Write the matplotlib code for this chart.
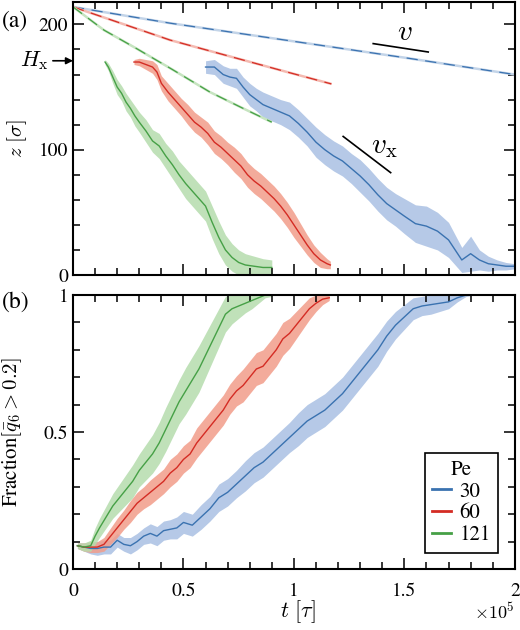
import matplotlib
matplotlib.use("Agg")
import matplotlib.pyplot as plt
from matplotlib.ticker import MultipleLocator
import numpy as np

plt.rcParams['font.family'] = ['STIXGeneral', 'DejaVu Serif']
plt.rcParams['mathtext.fontset'] = 'cm'

# ---- data (t in units of 1e5 tau) ----
pe_labels = ["30", "60", "121"]

# (a) thin lines: front position
thin30_t = [0, 0.44, 0.98, 1.5, 2.0]
thin30_z = [214, 201, 187, 173.5, 160]
thin60_t = [0, 0.44, 0.98, 1.17]
thin60_z = [214, 187.5, 161.5, 152.5]
thin121_t = [0, 0.14, 0.29, 0.45, 0.62, 0.77, 0.90]
thin121_z = [214, 195.5, 180.5, 164, 146, 133, 122]

# (a) thick lines: crystallization front
z121_t = [0.145, 0.16, 0.18, 0.20, 0.22, 0.24, 0.26, 0.28, 0.30, 0.33, 0.36, 0.39,
          0.42, 0.45, 0.48, 0.51, 0.54, 0.57, 0.60, 0.63, 0.66, 0.69, 0.72, 0.75,
          0.78, 0.82, 0.86, 0.90]
z121 = [170, 166, 158, 150, 145, 138, 133, 127, 122, 115, 107, 103,
        95, 88, 80, 73, 67, 61, 55, 42, 30, 20, 14, 10,
        8, 7, 6, 6]
z121_err = [2, 3, 5, 6, 6, 7, 7, 8, 8, 9, 9, 10,
            10, 11, 11, 12, 12, 12, 12, 13, 13, 12, 11, 10,
            9, 8, 7, 6]

z60_t = [0.276, 0.30, 0.33, 0.36, 0.38, 0.40, 0.43, 0.46, 0.49, 0.52, 0.55, 0.58,
         0.61, 0.64, 0.67, 0.70, 0.73, 0.76, 0.79, 0.82, 0.85, 0.88, 0.91, 0.94,
         0.97, 1.00, 1.03, 1.06, 1.09, 1.12, 1.15, 1.165]
z60 = [170, 170, 168, 166, 162, 153, 146, 140, 134, 128, 122, 118,
       113, 106, 102, 97, 92, 87, 80, 75, 71, 66, 61, 55,
       48, 40, 32, 24, 17, 12, 9, 8]
z60_err = [2, 3, 4, 5, 6, 6, 7, 7, 7, 8, 8, 8,
           9, 9, 9, 9, 10, 10, 10, 10, 10, 10, 10, 10,
           10, 10, 9, 8, 7, 6, 4, 3]

z30_t = [0.60, 0.64, 0.68, 0.71, 0.74, 0.77, 0.80, 0.83, 0.86, 0.90, 0.94, 0.98,
         1.02, 1.06, 1.10, 1.14, 1.18, 1.22, 1.26, 1.30, 1.34, 1.38, 1.42, 1.46,
         1.50, 1.55, 1.60, 1.65, 1.70, 1.73, 1.76, 1.80, 1.84, 1.88, 1.92, 1.96, 2.0]
z30 = [166, 166, 160, 158, 157, 150, 144, 140, 136, 133, 130, 127,
       121, 114, 106, 100, 95, 91, 85, 79, 72, 64, 57, 52,
       47, 41, 39, 35, 28, 20, 12, 17, 12, 9, 8, 7, 7]
z30_err = [5, 6, 7, 7, 8, 8, 9, 9, 10, 10, 10, 11,
           11, 11, 12, 12, 12, 12, 12, 13, 13, 13, 13, 13,
           14, 15, 16, 15, 14, 12, 10, 14, 8, 6, 4, 3, 2]

# (b) crystalline fraction
f121_t = [0.02, 0.05, 0.08, 0.10, 0.12, 0.15, 0.18, 0.21, 0.24, 0.27, 0.30, 0.33,
          0.36, 0.39, 0.42, 0.45, 0.48, 0.51, 0.54, 0.57, 0.60, 0.63, 0.66, 0.69,
          0.72, 0.75, 0.78, 0.81, 0.84, 0.87, 0.90]
f121 = [0.085, 0.08, 0.085, 0.12, 0.15, 0.19, 0.23, 0.26, 0.29, 0.32, 0.36, 0.39,
        0.42, 0.46, 0.51, 0.56, 0.61, 0.65, 0.69, 0.73, 0.78, 0.83, 0.88, 0.93,
        0.95, 0.96, 0.97, 0.98, 0.99, 1.0, 1.0]
f121_err = [0.01, 0.015, 0.02, 0.03, 0.035, 0.04, 0.045, 0.05, 0.055, 0.06, 0.06, 0.065,
            0.07, 0.075, 0.08, 0.08, 0.08, 0.085, 0.085, 0.085, 0.08, 0.075, 0.07, 0.065,
            0.055, 0.045, 0.035, 0.03, 0.02, 0.01, 0.005]

f60_t = [0.02, 0.05, 0.08, 0.11, 0.14, 0.17, 0.20, 0.23, 0.26, 0.29, 0.32, 0.35,
         0.38, 0.41, 0.44, 0.47, 0.50, 0.53, 0.56, 0.59, 0.62, 0.65, 0.68, 0.71,
         0.74, 0.77, 0.80, 0.83, 0.86, 0.89, 0.92, 0.95, 0.98, 1.01, 1.04, 1.07,
         1.10, 1.13, 1.16]
f60 = [0.085, 0.08, 0.08, 0.08, 0.09, 0.12, 0.15, 0.18, 0.21, 0.24, 0.26, 0.28,
       0.30, 0.32, 0.35, 0.37, 0.40, 0.42, 0.46, 0.49, 0.52, 0.55, 0.58, 0.62,
       0.65, 0.67, 0.70, 0.73, 0.74, 0.77, 0.80, 0.84, 0.86, 0.89, 0.92, 0.95,
       0.97, 0.985, 0.99]
f60_err = [0.01, 0.015, 0.02, 0.02, 0.025, 0.03, 0.035, 0.035, 0.04, 0.04, 0.04, 0.045,
           0.045, 0.045, 0.05, 0.05, 0.05, 0.05, 0.055, 0.055, 0.055, 0.055, 0.055, 0.055,
           0.055, 0.06, 0.06, 0.06, 0.06, 0.06, 0.06, 0.06, 0.055, 0.05, 0.045, 0.04,
           0.03, 0.02, 0.01]

f30_t = [0.02, 0.05, 0.08, 0.11, 0.14, 0.17, 0.20, 0.23, 0.26, 0.29, 0.32, 0.35,
         0.38, 0.41, 0.44, 0.47, 0.50, 0.54, 0.58, 0.62, 0.66, 0.70, 0.74, 0.78,
         0.82, 0.86, 0.90, 0.94, 0.98, 1.02, 1.06, 1.10, 1.14, 1.18, 1.22, 1.26,
         1.30, 1.34, 1.38, 1.42, 1.46, 1.50, 1.54, 1.58, 1.62, 1.66, 1.70, 1.74,
         1.78, 1.82, 1.90, 2.0]
f30 = [0.085, 0.08, 0.075, 0.075, 0.08, 0.08, 0.105, 0.09, 0.085, 0.10, 0.12, 0.13,
       0.12, 0.14, 0.145, 0.15, 0.17, 0.16, 0.19, 0.22, 0.26, 0.28, 0.31, 0.34,
       0.37, 0.39, 0.42, 0.45, 0.48, 0.51, 0.54, 0.56, 0.58, 0.61, 0.64, 0.68,
       0.72, 0.76, 0.80, 0.85, 0.89, 0.92, 0.95, 0.96, 0.965, 0.97, 0.975, 0.99,
       1.0, 1.0, 1.0, 1.0]
f30_err = [0.01, 0.015, 0.02, 0.025, 0.025, 0.025, 0.025, 0.025, 0.03, 0.03, 0.03, 0.035,
           0.035, 0.035, 0.035, 0.04, 0.04, 0.04, 0.045, 0.045, 0.05, 0.05, 0.05, 0.055,
           0.055, 0.055, 0.055, 0.055, 0.055, 0.06, 0.06, 0.06, 0.06, 0.06, 0.06, 0.06,
           0.06, 0.06, 0.06, 0.055, 0.05, 0.045, 0.04, 0.035, 0.035, 0.03, 0.025, 0.015,
           0.005, 0.0, 0.0, 0.0]

# guide slopes (annotations)
v_seg_t, v_seg_z = [1.359, 1.608], [184.7, 178]
vx_seg_t, vx_seg_z = [1.223, 1.438], [110.6, 81.7]
hx = 171

xticks = [0, 0.5, 1, 1.5, 2]
xticklabels = ["0", "0.5", "1", "1.5", "2"]

line_c = ['#3a72b0', '#d42c24', '#46a046']
fill_c = ['#a9c0e3', '#f29d8a', '#b5dcad']
pale_c = ['#c3d4e8', '#f4bab1', '#c6e4c0']

fig = plt.figure(figsize=(5.2, 6.3), dpi=100)
ax1 = fig.add_axes([0.1404, 0.5635, 0.8496, 0.4335])
ax2 = fig.add_axes([0.1404, 0.0968, 0.8496, 0.4349])

# ---- panel (a) ----
thin = [(thin30_t, thin30_z), (thin60_t, thin60_z), (thin121_t, thin121_z)]
for (tt, zz), lc, pc in zip(thin, line_c, pale_c):
    ax1.plot(tt, zz, color=pc, lw=1.8, solid_capstyle='butt')
    ax1.plot(tt, zz, color=lc, lw=0.9, dashes=(9, 6))

thick = [(z30_t, z30, z30_err), (z60_t, z60, z60_err), (z121_t, z121, z121_err)]
for (tt, zz, ee), lc, fc in zip(thick, line_c, fill_c):
    tt, zz, ee = np.array(tt), np.array(zz), np.array(ee)
    ax1.fill_between(tt, zz - ee, zz + ee, color=fc, lw=0, alpha=0.85)
    ax1.plot(tt, zz, color=lc, lw=1.0)

ax1.plot(v_seg_t, v_seg_z, color='k', lw=1.2)
ax1.plot(vx_seg_t, vx_seg_z, color='k', lw=1.2)
ax1.text(1.50, 193, '$v$', fontsize=21, ha='center', va='center')
ax1.text(1.41, 102, r'$v_{\rm x}$', fontsize=21, ha='center', va='center')

ax1.annotate(r'$H_{\rm x}$', xy=(0, hx), xycoords=('axes fraction', 'data'),
             xytext=(-0.055, hx), textcoords=('axes fraction', 'data'),
             ha='right', va='center', fontsize=16, annotation_clip=False,
             arrowprops=dict(arrowstyle='-|>', color='k', lw=1.2,
                             shrinkA=1, shrinkB=0, mutation_scale=10))

ax1.set_xlim(0, 2)
ax1.set_ylim(0, 218)
ax1.set_yticks([0, 100, 200])
ax1.yaxis.set_minor_locator(MultipleLocator(20))
ax1.set_ylabel(r'$z\ [\sigma]$', fontsize=15)
ax1.yaxis.set_label_coords(-0.1, 0.5)

# ---- panel (b) ----
frac = [(f30_t, f30, f30_err), (f60_t, f60, f60_err), (f121_t, f121, f121_err)]
for (tt, ff, ee), lc, fc, lab in zip(frac, line_c, fill_c, pe_labels):
    tt, ff, ee = np.array(tt), np.array(ff), np.array(ee)
    ax2.fill_between(tt, ff - ee, ff + ee, color=fc, lw=0, alpha=0.85)
    ax2.plot(tt, ff, color=lc, lw=1.0, label=lab)

ax2.set_xlim(0, 2)
ax2.set_ylim(0, 1)
ax2.set_yticks([0, 0.5, 1])
ax2.set_yticklabels(["0", "0.5", "1"])
ax2.yaxis.set_minor_locator(MultipleLocator(0.1))
ax2.set_ylabel(r'Fraction$[\bar{q}_6 > 0.2]$', fontsize=15)
ax2.yaxis.set_label_coords(-0.11, 0.5)
ax2.set_xlabel(r'$t\ [\tau]$', fontsize=16)
ax2.xaxis.set_label_coords(0.51, -0.108)
ax2.text(1.0, -0.12, r'$\times10^5$', transform=ax2.transAxes,
         ha='right', va='top', fontsize=13)

leg = ax2.legend(title='Pe', loc='lower right', bbox_to_anchor=(0.962, 0.06),
                 borderaxespad=0, fancybox=False, edgecolor='k', fontsize=15,
                 title_fontsize=15, handlelength=0.9, handletextpad=0.4,
                 labelspacing=0.1, borderpad=0.35, framealpha=1)
leg.get_frame().set_linewidth(1.2)
for h in leg.legend_handles:
    h.set_linewidth(2)

for ax in (ax1, ax2):
    ax.set_xticks(xticks)
    ax.xaxis.set_minor_locator(MultipleLocator(0.1))
    ax.tick_params(which='both', direction='in', top=True, right=True, width=1.1,
                   labelsize=14)
    ax.tick_params(which='major', length=8)
    ax.tick_params(which='minor', length=5)
    ax.tick_params(axis='x', pad=10)
    for s in ax.spines.values():
        s.set_linewidth(1.5)
ax1.set_xticklabels([])
ax2.set_xticklabels(xticklabels)

fig.text(0.004, 0.983, '(a)', fontsize=17, va='top', ha='left')
fig.text(0.004, 0.537, '(b)', fontsize=17, va='top', ha='left')

fig.savefig('out.png', dpi=100)
